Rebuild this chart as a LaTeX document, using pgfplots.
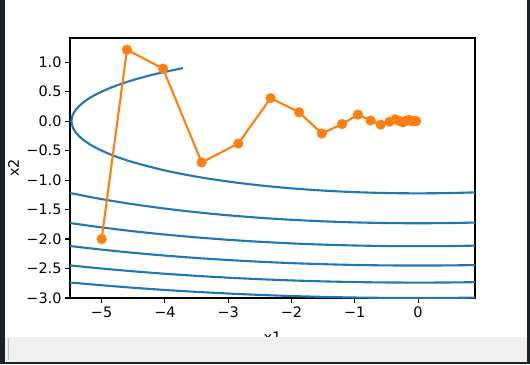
\documentclass[border=0pt]{standalone}
\usepackage{pgfplots}
\pgfplotsset{compat=1.18}
\usepackage{fontspec}
\setmainfont{DejaVu Sans}
\definecolor{mplblue}{HTML}{1F77B4}
\definecolor{mplorange}{HTML}{FF7F0E}
\definecolor{frame}{HTML}{1B2129}
\begin{document}
\begin{tikzpicture}[x=1bp,y=1bp]
\path[use as bounding box] (0,0) rectangle (530,364);
\fill[white] (0,0) rectangle (530,364);
\begin{axis}[
  at={(70bp,66bp)}, anchor=south west,
  scale only axis, width=405bp, height=260bp,
  xmin=-5.5, xmax=0.9, ymin=-3.0, ymax=1.41,
  axis line style={line width=1.1bp},
  tick align=outside, tick pos=left,
  major tick length=5bp,
  every tick/.style={line width=1.1bp, black},
  xtick={-5,-4,-3,-2,-1,0},
  xticklabels={−5,−4,−3,−2,−1,0},
  ytick={-3,-2.5,-2,-1.5,-1,-0.5,0,0.5,1},
  yticklabels={−3.0,−2.5,−2.0,−1.5,−1.0,−0.5,0.0,0.5,1.0},
  tick label style={font=\fontsize{14.5}{16}\selectfont},
  label style={font=\fontsize{14.5}{16}\selectfont},
  xlabel={x1}, ylabel={x2},
  xlabel style={at={(axis description cs:0.5,0)}, anchor=north, yshift=-30bp},
  ylabel style={at={(axis description cs:0,0.5)}, anchor=center, xshift=0bp, yshift=56.5bp},
  clip=true,
]
% contour levels 3,6,9,12,15,18
\addplot[mplblue, line width=2.1bp, smooth, tension=0.5] coordinates {
(0.9,-1.2081) (0.5,-1.2196) (0,-1.2247) (-0.5,-1.2196) (-1,-1.2042) (-1.5,-1.1779)
(-2,-1.1402) (-2.5,-1.0897) (-3,-1.0247) (-3.5,-0.9421) (-4,-0.8367) (-4.5,-0.6982)
(-4.775,-0.6) (-5,-0.5) (-5.177,-0.4) (-5.310,-0.3) (-5.404,-0.2) (-5.459,-0.1)
(-5.477,0) (-5.459,0.1) (-5.404,0.2) (-5.310,0.3) (-5.177,0.4) (-5,0.5)
(-4.775,0.6) (-4.494,0.7) (-4.147,0.8) (-3.715,0.9)};
\addplot[mplblue, line width=2.1bp, smooth] coordinates {
(-5.5,-1.2196) (-5,-1.3229) (-4.5,-1.4098) (-4,-1.4832) (-3.5,-1.5452) (-3,-1.5969)
(-2.5,-1.6394) (-2,-1.6733) (-1.5,-1.6993) (-1,-1.7176) (-0.5,-1.7284) (0,-1.7321)
(0.5,-1.7284) (0.9,-1.7203)};
\addplot[mplblue, line width=2.1bp, smooth] coordinates {
(-5.5,-1.7284) (-5,-1.8028) (-4.5,-1.8675) (-4,-1.9235) (-3.5,-1.9717) (-3,-2.0125)
(-2.5,-2.0463) (-2,-2.0736) (-1.5,-2.0946) (-1,-2.1095) (-0.5,-2.1184) (0,-2.1213)
(0.5,-2.1184) (0.9,-2.1118)};
\addplot[mplblue, line width=2.1bp, smooth] coordinates {
(-5.5,-2.1184) (-5,-2.1794) (-4.5,-2.2333) (-4,-2.2804) (-3.5,-2.3211) (-3,-2.3558)
(-2.5,-2.3848) (-2,-2.4083) (-1.5,-2.4264) (-1,-2.4393) (-0.5,-2.4469) (0,-2.4495)
(0.5,-2.4469) (0.9,-2.4412)};
\addplot[mplblue, line width=2.1bp, smooth] coordinates {
(-5.5,-2.4469) (-5,-2.5) (-4.5,-2.5471) (-4,-2.5884) (-3.5,-2.6244) (-3,-2.6552)
(-2.5,-2.6810) (-2,-2.7019) (-1.5,-2.7180) (-1,-2.7295) (-0.5,-2.7363) (0,-2.7386)
(0.5,-2.7363) (0.9,-2.7312)};
\addplot[mplblue, line width=2.1bp, smooth] coordinates {
(-5.5,-2.7363) (-5,-2.7839) (-4.5,-2.8262) (-4,-2.8636) (-3.5,-2.8961) (-3,-2.9240)
(-2.5,-2.9475) (-2,-2.9665) (-1.5,-2.9812) (-1,-2.9917) (-0.5,-2.9979) (0,-3.0)
(0.5,-2.9979) (0.9,-2.9932)};
% trajectory
\addplot[mplorange, line width=2.1bp, mark=*, mark size=5bp, mark options={fill=mplorange, draw=mplorange, line width=0.1bp}] coordinates {
(-5,-2) (-4.6,1.21) (-4.03,0.89) (-3.42,-0.70) (-2.84,-0.38) (-2.33,0.39)
(-1.88,0.15) (-1.52,-0.21) (-1.20,-0.05) (-0.95,0.11) (-0.75,0.01) (-0.59,-0.06)
(-0.45,-0.01) (-0.36,0.03) (-0.29,0.0) (-0.24,-0.02) (-0.18,0.01) (-0.14,0.02)
(-0.10,0.0) (-0.06,0.0) (-0.03,0.0)};
\end{axis}
% screenshot frame
\fill[black!6] (4.5,2) rectangle (527,27);
\draw[black!25, line width=0.8] (8,4) -- (8,25);
\fill[frame] (0,0) rectangle (530,2);
\fill[frame] (0,0) rectangle (4.5,364);
\fill[frame] (527,0) rectangle (530,364);
\end{tikzpicture}
\end{document}
